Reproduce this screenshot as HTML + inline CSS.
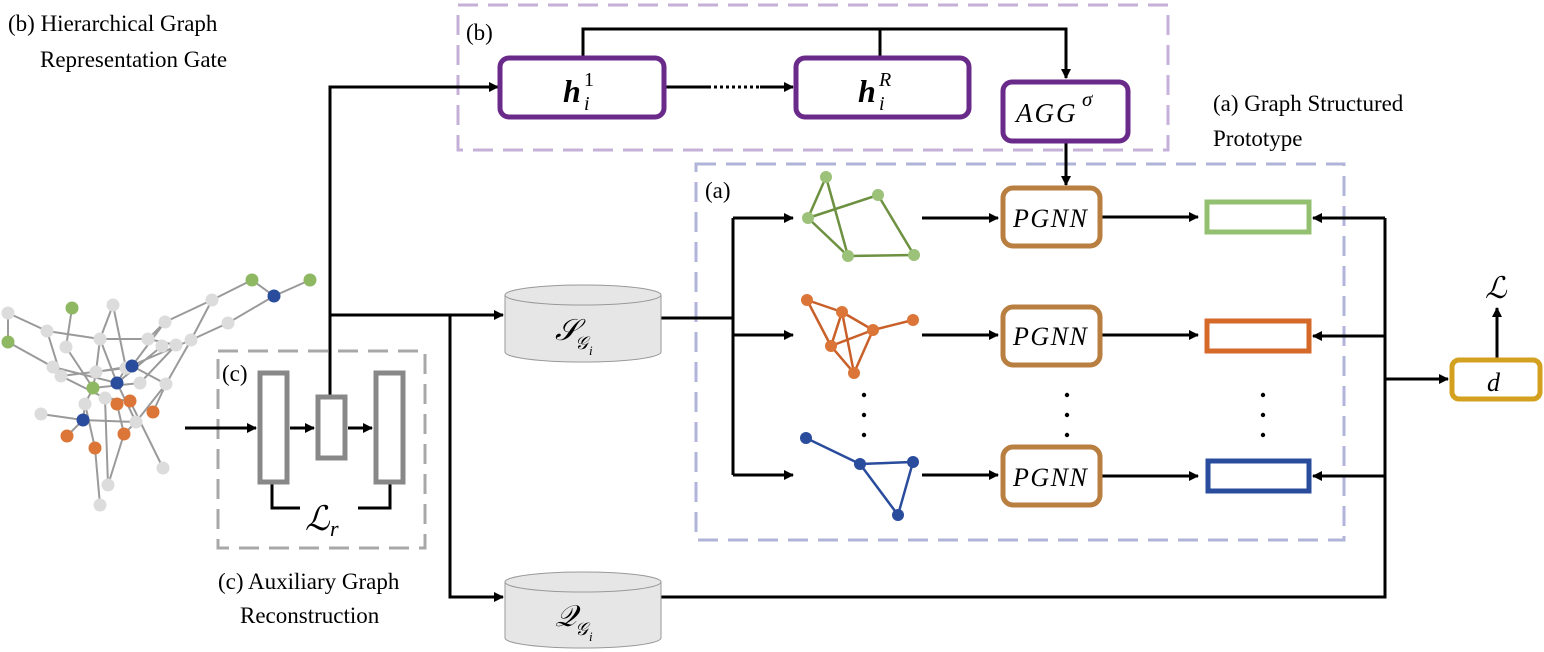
<!DOCTYPE html>
<html><head><meta charset="utf-8"><style>
html,body{margin:0;padding:0;background:#fff;}
svg{display:block;}
text{font-family:"Liberation Serif",serif;}
.it{font-family:"Liberation Serif",serif;font-style:italic;}
</style></head><body>
<svg width="1544" height="652" viewBox="0 0 1544 652" xmlns="http://www.w3.org/2000/svg">
<defs>
<marker id="ar" markerWidth="10" markerHeight="10" refX="9" refY="5" orient="auto" markerUnits="userSpaceOnUse"><path d="M0,0 L10,5 L0,10 z" fill="#000"/></marker>
</defs>

<rect x="458" y="5" width="710" height="145" fill="none" stroke="#c6b0da" stroke-width="3" stroke-dasharray="20,10"/>
<rect x="696" y="164" width="648" height="376" fill="none" stroke="#b0b4da" stroke-width="3" stroke-dasharray="20,10"/>
<rect x="218" y="351" width="207" height="197" fill="none" stroke="#a8a8a8" stroke-width="3" stroke-dasharray="20,10"/>

<text x="8" y="31" font-size="23">(b) Hierarchical Graph</text>
<text x="40" y="67" font-size="23">Representation Gate</text>
<text x="466" y="40" font-size="23">(b)</text>
<text x="1213" y="111" font-size="23">(a) Graph Structured</text>
<text x="1213" y="146" font-size="23">Prototype</text>
<text x="705" y="198" font-size="23">(a)</text>
<text x="222" y="381" font-size="23">(c)</text>
<text x="218" y="589" font-size="23">(c) Auxiliary Graph</text>
<text x="240" y="623" font-size="23">Reconstruction</text>

<g stroke="#000" stroke-width="3" fill="none">
<path d="M583,57 V29 H1066 V78" marker-end="url(#ar)"/>
<path d="M880,29 V57"/>
<path d="M665,87 H708"/>
<path d="M708,87 H760" stroke-dasharray="3,3"/>
<path d="M760,87 H793" marker-end="url(#ar)"/>
<path d="M1066,142 V185" marker-end="url(#ar)"/>
<path d="M330,395 V87 H498" marker-end="url(#ar)"/>
<path d="M330,315 H503" marker-end="url(#ar)"/>
<path d="M450,315 V597 H503" marker-end="url(#ar)"/>
<path d="M185,428 H256" marker-end="url(#ar)"/>
<path d="M290,428 H314" marker-end="url(#ar)"/>
<path d="M348,428 H372" marker-end="url(#ar)"/>
<path d="M272,484 V508 H300 M358,508 H390 V484"/>
<path d="M660,318 H733 M733,218 V475"/>
<path d="M733,218 H793" marker-end="url(#ar)"/>
<path d="M733,335 H793" marker-end="url(#ar)"/>
<path d="M733,475 H793" marker-end="url(#ar)"/>
<path d="M922,218 H998" marker-end="url(#ar)"/>
<path d="M922,335 H998" marker-end="url(#ar)"/>
<path d="M922,475 H998" marker-end="url(#ar)"/>
<path d="M1100,217 H1198" marker-end="url(#ar)"/>
<path d="M1100,335 H1198" marker-end="url(#ar)"/>
<path d="M1100,476 H1198" marker-end="url(#ar)"/>
<path d="M1385,218 V597 H660"/>
<path d="M1385,218 H1313" marker-end="url(#ar)"/>
<path d="M1385,336 H1313" marker-end="url(#ar)"/>
<path d="M1385,476 H1313" marker-end="url(#ar)"/>
<path d="M1385,379 H1448" marker-end="url(#ar)"/>
<path d="M1497,358 V308" marker-end="url(#ar)"/>
</g>

<g fill="#fff" stroke="#6a2a8a" stroke-width="5">
<rect x="500" y="58" width="164" height="59" rx="9"/>
<rect x="796" y="58" width="173" height="59" rx="9"/>
<rect x="1003" y="82" width="125" height="59" rx="9"/>
</g>
<text x="563" y="102" font-size="32" font-weight="bold" class="it">h</text>
<text x="584" y="86" font-size="20">1</text>
<text x="584" y="110" font-size="20" class="it">i</text>
<text x="858" y="102" font-size="32" font-weight="bold" class="it">h</text>
<text x="879" y="86" font-size="20" class="it">R</text>
<text x="879" y="110" font-size="20" class="it">i</text>
<text x="1016" y="122" font-size="27" class="it" letter-spacing="2">AGG</text>
<text x="1082" y="106" font-size="21" class="it">σ</text>

<g fill="#fff" stroke="#888" stroke-width="5">
<rect x="260" y="373" width="27" height="109"/>
<rect x="318" y="397" width="27" height="61"/>
<rect x="376" y="373" width="27" height="109"/>
</g>
<text x="305" y="530" font-size="34" class="it">ℒ</text>
<text x="330" y="536" font-size="22" class="it">r</text>

<g fill="#e6e6e6" stroke="#999" stroke-width="1">
<path d="M505,295 V352 A78,10 0 0 0 661,352 V295"/>
<ellipse cx="583" cy="295" rx="78" ry="10"/>
<path d="M505,582 V638 A78,10 0 0 0 661,638 V582"/>
<ellipse cx="583" cy="582" rx="78" ry="10"/>
</g>
<text x="555" y="340" font-size="30" class="it">𝒮</text>
<text x="575" y="349" font-size="18" class="it">𝒢</text>
<text x="589" y="355" font-size="13" class="it">i</text>
<text x="555" y="626" font-size="30" class="it">𝒬</text>
<text x="575" y="635" font-size="18" class="it">𝒢</text>
<text x="589" y="641" font-size="13" class="it">i</text>

<g fill="#fff" stroke="#b97f40" stroke-width="5">
<rect x="1003" y="188" width="97" height="58" rx="10"/>
<rect x="1003" y="307" width="97" height="58" rx="10"/>
<rect x="1003" y="447" width="97" height="58" rx="10"/>
</g>
<g font-size="26" class="it" letter-spacing="1.5"><text x="1013" y="227">PGNN</text><text x="1013" y="345">PGNN</text><text x="1013" y="486">PGNN</text></g>

<rect x="1207" y="202" width="102" height="30" fill="#fff" stroke="#93c070" stroke-width="5"/>
<rect x="1207" y="321" width="102" height="30" fill="#fff" stroke="#d4692a" stroke-width="5"/>
<rect x="1208" y="461" width="101" height="30" fill="#fff" stroke="#2a4c9c" stroke-width="5"/>

<rect x="1452" y="360" width="88" height="39" rx="7" fill="#fff" stroke="#d4a020" stroke-width="5"/>
<text x="1487" y="391" font-size="26" class="it">d</text>
<text x="1485" y="298" font-size="30" class="it">ℒ</text>

<g fill="#000">
<circle cx="864" cy="395" r="2.2"/><circle cx="864" cy="415" r="2.2"/><circle cx="864" cy="435" r="2.2"/>
<circle cx="1067" cy="395" r="2.2"/><circle cx="1067" cy="415" r="2.2"/><circle cx="1067" cy="435" r="2.2"/>
<circle cx="1263" cy="395" r="2.2"/><circle cx="1263" cy="415" r="2.2"/><circle cx="1263" cy="435" r="2.2"/>
</g>

<g stroke="#6d9140" stroke-width="2.5" fill="none"><path d="M826,177 L808,218 L848,256 L826,177 M808,218 L878,195 L914,255 L848,256"/></g>
<g fill="#9cc27a"><circle cx="826" cy="177" r="6"/><circle cx="878" cy="195" r="6"/><circle cx="808" cy="218" r="6"/><circle cx="848" cy="256" r="6"/><circle cx="914" cy="255" r="6"/></g>
<g stroke="#c9602a" stroke-width="2.5" fill="none"><path d="M807,300 L842,312 L831,346 L807,300 M842,312 L873,330 L913,320 M842,312 L854,373 L831,346 L873,330 L854,373"/></g>
<g fill="#dc7638"><circle cx="807" cy="300" r="6"/><circle cx="842" cy="312" r="6"/><circle cx="873" cy="330" r="6"/><circle cx="913" cy="320" r="6"/><circle cx="831" cy="346" r="6"/><circle cx="854" cy="373" r="6"/></g>
<g stroke="#2a4c9c" stroke-width="2.5" fill="none"><path d="M806,438 L860,464 L913,462 L898,515 L860,464"/></g>
<g fill="#2a4c9c"><circle cx="806" cy="438" r="6"/><circle cx="860" cy="464" r="6"/><circle cx="913" cy="462" r="6"/><circle cx="898" cy="515" r="6"/></g>

<g stroke="#9a9a9a" stroke-width="2" fill="none">
<path d="M252,280 L274,296 L310,280 M274,296 L228,323 L191,340 M252,280 L212,300 L165,322 L132,366 M8,313 L8,342 L53,367 M8,313 L47,331 L100,339 L148,339 L176,345 M72,308 L66,347 L93,388 M113,305 L100,339 L96,372 L132,366 M113,305 L126,368 L117,383 M47,331 L61,376 L105,398 M53,367 L117,383 L162,346 M61,376 L126,368 L191,340 M96,372 L93,388 L140,383 M132,366 L166,384 L153,412 M117,383 L136,422 L124,434 M93,388 L85,404 L83,420 L41,414 M105,398 L108,485 M105,398 L130,401 L163,468 M83,420 L67,436 M83,420 L136,422 M85,404 L95,448 L100,505 M117,404 L124,434 L108,485 M165,322 L148,339 M191,340 L166,384 L136,422 M176,345 L140,383 M100,339 L117,383 M212,300 L191,340"/>
</g>
<g fill="#dcdcdc">
<circle cx="212" cy="300" r="6.5"/><circle cx="228" cy="323" r="6.5"/><circle cx="8" cy="313" r="6.5"/><circle cx="113" cy="305" r="6.5"/><circle cx="47" cy="331" r="6.5"/><circle cx="100" cy="339" r="6.5"/><circle cx="165" cy="322" r="6.5"/><circle cx="148" cy="339" r="6.5"/><circle cx="162" cy="346" r="6.5"/><circle cx="176" cy="345" r="6.5"/><circle cx="191" cy="340" r="6.5"/><circle cx="66" cy="347" r="6.5"/><circle cx="53" cy="367" r="6.5"/><circle cx="96" cy="372" r="6.5"/><circle cx="126" cy="368" r="6.5"/><circle cx="61" cy="376" r="6.5"/><circle cx="140" cy="383" r="6.5"/><circle cx="166" cy="384" r="6.5"/><circle cx="105" cy="398" r="6.5"/><circle cx="85" cy="404" r="6.5"/><circle cx="136" cy="422" r="6.5"/><circle cx="41" cy="414" r="6.5"/><circle cx="163" cy="468" r="6.5"/><circle cx="108" cy="485" r="6.5"/><circle cx="100" cy="505" r="6.5"/>
</g>
<g fill="#8fb862"><circle cx="252" cy="280" r="6.5"/><circle cx="310" cy="280" r="6.5"/><circle cx="8" cy="342" r="6.5"/><circle cx="72" cy="308" r="6.5"/><circle cx="93" cy="388" r="6.5"/></g>
<g fill="#2a4c9c"><circle cx="274" cy="296" r="6.5"/><circle cx="132" cy="366" r="6.5"/><circle cx="117" cy="383" r="6.5"/><circle cx="83" cy="420" r="6.5"/></g>
<g fill="#dc7638"><circle cx="117" cy="404" r="6.5"/><circle cx="130" cy="401" r="6.5"/><circle cx="153" cy="412" r="6.5"/><circle cx="67" cy="436" r="6.5"/><circle cx="124" cy="434" r="6.5"/><circle cx="95" cy="448" r="6.5"/></g>
</svg>
</body></html>
